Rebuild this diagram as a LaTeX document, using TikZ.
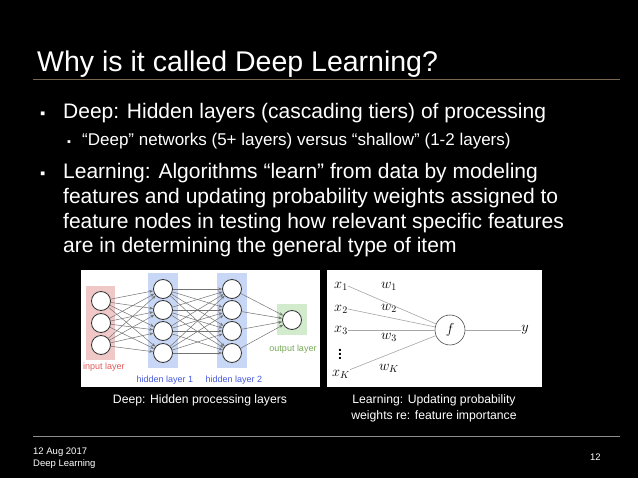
\documentclass[tikz,border=0pt]{standalone}
\usepackage{fontspec}
\setmainfont{Liberation Sans}
\usetikzlibrary{arrows.meta}
\definecolor{pinkbg}{RGB}{240,200,200}
\definecolor{bluebg}{RGB}{200,215,245}
\definecolor{greenbg}{RGB}{210,235,205}
\definecolor{redtxt}{RGB}{225,90,90}
\definecolor{bluetxt}{RGB}{70,90,220}
\definecolor{greentxt}{RGB}{120,170,90}
\definecolor{rulecol}{RGB}{120,105,80}
\begin{document}
\begin{tikzpicture}[x=1pt,y=-1pt,
  txt/.style={text=white,anchor=base west,inner sep=0pt},
  big/.style={txt,font=\fontsize{21}{21}\selectfont},
  neuron/.style={circle,draw=black!80,fill=white,line width=0.8pt,minimum size=19pt,inner sep=0pt},
  conn/.style={draw=black!55,line width=0.5pt,-{Stealth[length=4pt,width=3pt]}},
  wline/.style={draw=black!35,line width=0.6pt},
  mth/.style={inner sep=0pt,font=\fontsize{14}{14}\selectfont},
  lab/.style={font=\fontsize{9}{9}\selectfont,inner sep=0pt}]
\fill[black] (0,0) rectangle (638,478);
\useasboundingbox (0,0) rectangle (638,478);
\node[txt,font=\fontsize{28.5}{28.5}\selectfont] (title) at (37,72) {Why is it called Deep Learning?};
\draw[rulecol,line width=0.7pt] (33,79) -- (620,79);
\node[txt,font=\fontsize{15}{15}\selectfont] (b1) at (40,119) {▪};
\node[big] (t1) at (63,119) {Deep: Hidden layers (cascading tiers) of processing};
\node[txt,font=\fontsize{11}{11}\selectfont] (b2) at (67,146) {▪};
\node[txt,font=\fontsize{17}{17}\selectfont] (t2) at (82,146) {“Deep” networks (5+ layers) versus “shallow” (1-2 layers)};
\node[txt,font=\fontsize{15}{15}\selectfont] (b3) at (40,179) {▪};
\node[big] (t3a) at (63,179) {Learning: Algorithms “learn” from data by modeling};
\node[big] (t3b) at (63,204) {features and updating probability weights assigned to};
\node[big] (t3c) at (63,229) {feature nodes in testing how relevant specific features};
\node[big] (t3d) at (63,253) {are in determining the general type of item};
% panel 1
\fill[white] (81,270) rectangle (320,387);
\fill[pinkbg] (86,286) rectangle (115,360);
\fill[bluebg] (148,273) rectangle (178,368);
\fill[bluebg] (217,273) rectangle (247,368);
\fill[greenbg] (277,304) rectangle (307,335);
\foreach \i/\y in {1/301,2/323,3/345} \node[neuron] (i\i) at (101,\y) {};
\foreach \i/\y in {1/289,2/310,3/331,4/353} {\node[neuron] (h\i) at (163,\y) {}; \node[neuron] (g\i) at (232,\y) {};}
\node[neuron] (o) at (292,320) {};
\foreach \a in {1,2,3} \foreach \b in {1,2,3,4} \draw[conn] (i\a) -- (h\b);
\foreach \a in {1,2,3,4} \foreach \b in {1,2,3,4} \draw[conn] (h\a) -- (g\b);
\foreach \a in {1,2,3,4} \draw[conn] (g\a) -- (o);
\node[lab,text=redtxt] (li) at (104,367) {input layer};
\node[lab,text=bluetxt] (lh1) at (165,380) {hidden layer 1};
\node[lab,text=bluetxt] (lh2) at (234,380) {hidden layer 2};
\node[lab,text=greentxt] (lo) at (293,349) {output layer};
% panel 2
\fill[white] (327,270) rectangle (542,387);
\node[circle,draw=black!70,line width=0.6pt,minimum size=30pt,inner sep=0pt] (f) at (450,330) {\fontsize{14}{14}\selectfont$f$};
\node[mth] (x1) at (341,286) {$x_1$};
\node[mth] (x2) at (341,309) {$x_2$};
\node[mth] (x3) at (341,330) {$x_3$};
\node[inner sep=0pt,font=\fontsize{14}{14}\selectfont\bfseries] (xd) at (340,351) {$\vdots$};
\node[mth] (xk) at (341,374) {$x_K$};
\node[mth] (w1) at (389,286) {$w_1$};
\node[mth] (w2) at (389,308) {$w_2$};
\node[mth] (w3) at (389,337) {$w_3$};
\node[mth] (wk) at (389,368) {$w_K$};
\node[mth] (y) at (525,330) {$y$};
\draw[wline] (x1.east) -- (f);
\draw[wline] (x2.east) -- (f);
\draw[wline] (x3.east) -- (f);
\draw[wline] (xk.north east) -- (f);
\draw[wline] (f) -- (y.west);
% captions
\node[text=white,font=\fontsize{12.2}{12.2}\selectfont,inner sep=0pt,anchor=base] (c1) at (200,404) {Deep: Hidden processing layers};
\node[text=white,font=\fontsize{12.2}{12.2}\selectfont,inner sep=0pt,anchor=base] (c2a) at (434,404) {Learning: Updating probability};
\node[text=white,font=\fontsize{12.2}{12.2}\selectfont,inner sep=0pt,anchor=base] (c2b) at (434,420) {weights re: feature importance};
\draw[black!45,line width=0.6pt] (33,436) -- (620,436);
\node[txt,font=\fontsize{9.5}{9.5}\selectfont] (ft1) at (33,455) {12 Aug 2017};
\node[txt,font=\fontsize{9.5}{9.5}\selectfont] (ft2) at (33,467) {Deep Learning};
\node[txt,font=\fontsize{9.5}{9.5}\selectfont] (pg) at (590,461) {12};
\end{tikzpicture}
\end{document}
